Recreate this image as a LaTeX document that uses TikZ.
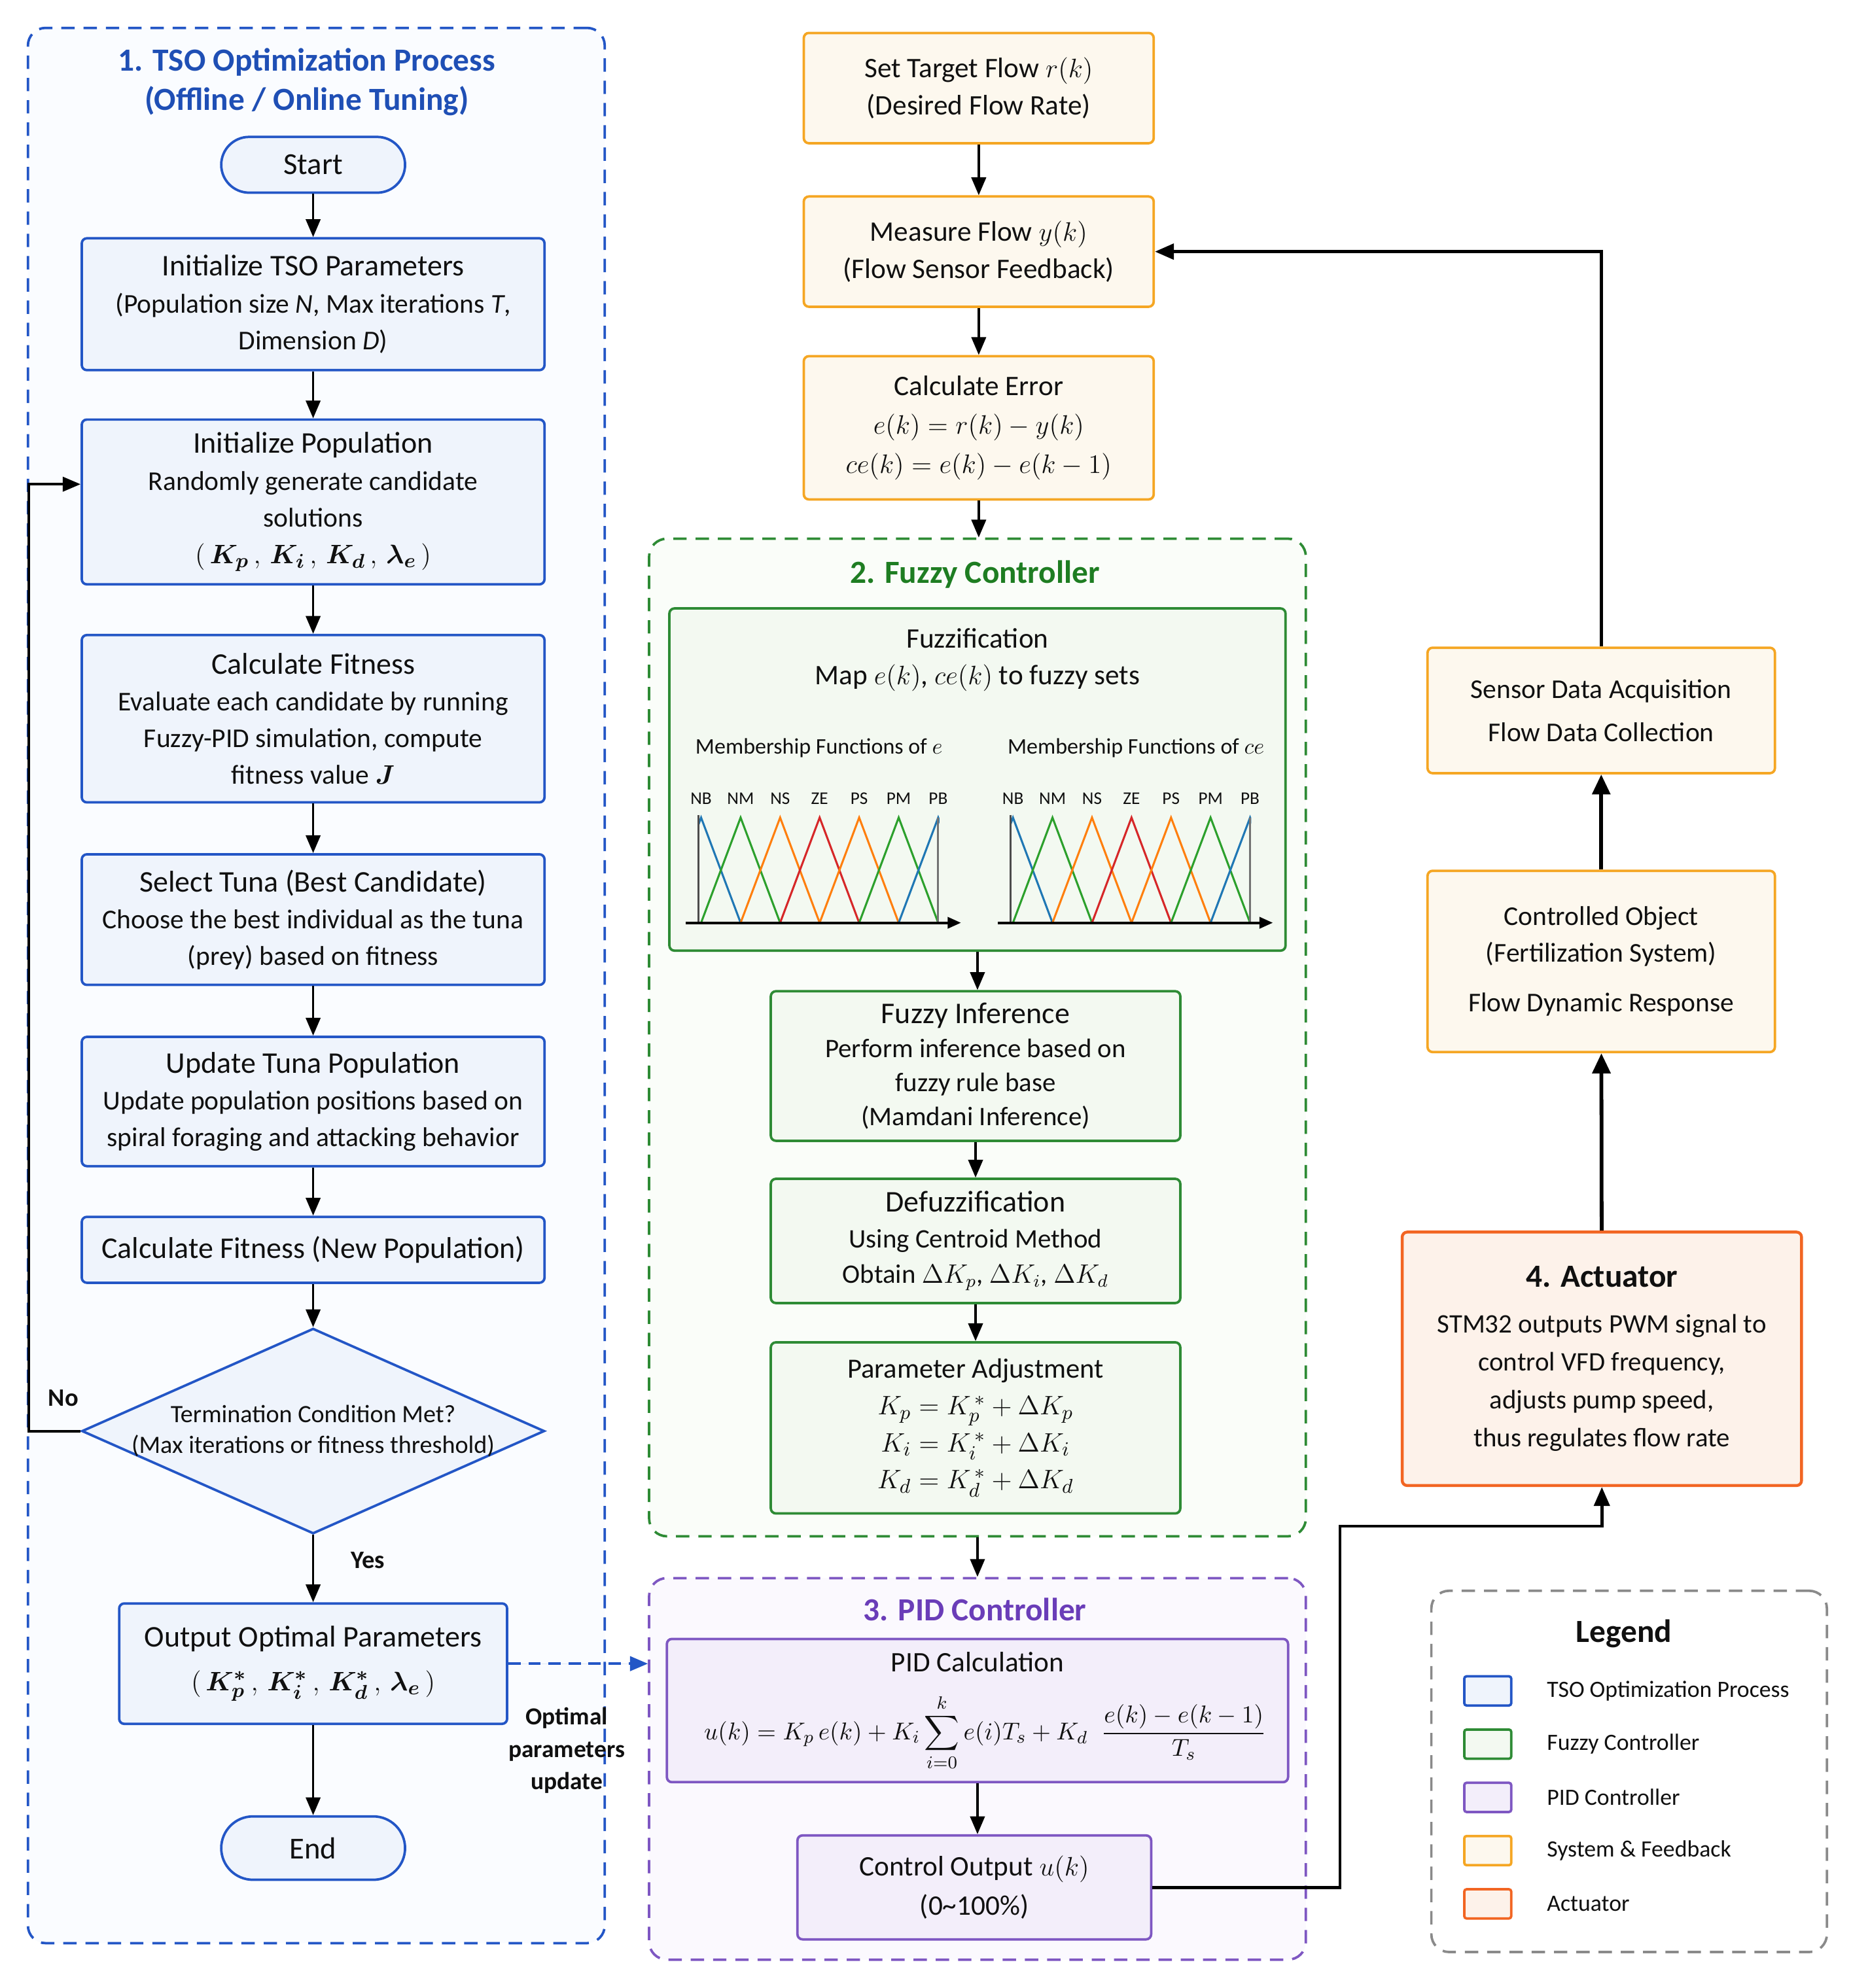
\documentclass[tikz,border=0pt]{standalone}
\usepackage{fontspec}
\usepackage{amsmath}
\usepackage{bm}
\setmainfont{Carlito}
\setsansfont{Carlito}
\usetikzlibrary{shapes.geometric,arrows.meta,calc}

\definecolor{tsob}{HTML}{2356C6}
\definecolor{tsot}{HTML}{1F4FB5}
\definecolor{tsof}{HTML}{EFF4FC}
\definecolor{tsocf}{HTML}{FAFCFF}
\definecolor{sysb}{HTML}{F5A623}
\definecolor{sysf}{HTML}{FDF8EE}
\definecolor{fzb}{HTML}{2E8B35}
\definecolor{fzt}{HTML}{1E7D22}
\definecolor{fzf}{HTML}{F3F9F1}
\definecolor{fzcf}{HTML}{FAFDF9}
\definecolor{pidb}{HTML}{7E57C2}
\definecolor{pidt}{HTML}{6A3DB8}
\definecolor{pidf}{HTML}{F3EEFA}
\definecolor{pidcf}{HTML}{FBF9FE}
\definecolor{actb}{HTML}{F26522}
\definecolor{actf}{HTML}{FDF2EA}
\definecolor{legb}{HTML}{8A8A8A}
\definecolor{mfblue}{HTML}{1F77B4}
\definecolor{mfgreen}{HTML}{2CA02C}
\definecolor{mforange}{HTML}{FF7F0E}
\definecolor{mfred}{HTML}{D62728}
\definecolor{txt}{HTML}{101010}

\newdimen\PX \PX=0.02cm
\newcommand\BxTitle{\fontsize{13.5}{16.5}\selectfont}
\newcommand\BxBody{\fontsize{12.2}{16.5}\selectfont}
\newcommand\FzBody{\fontsize{12}{15.2}\selectfont}
\newcommand\SysFont{\fontsize{12.7}{16.5}\selectfont}

\tikzset{
  base/.style={rectangle, rounded corners=4\PX, line width=1.1pt, align=center,
    inner sep=0pt, text=txt},
  tsobox/.style={base, draw=tsob, fill=tsof, font=\BxBody},
  sysbox/.style={base, draw=sysb, fill=sysf, font=\SysFont},
  fzbox/.style={base, draw=fzb, fill=fzf, font=\FzBody},
  pidbox/.style={base, draw=pidb, fill=pidf},
  actbox/.style={base, draw=actb, fill=actf, line width=1.3pt},
  term/.style={tsobox, font=\fontsize{13.7}{16}\selectfont},
  cont/.style={rectangle, rounded corners=14\PX, line width=1.1pt,
    dash pattern=on 6pt off 4pt, inner sep=0pt},
  ctitle/.style={font=\bfseries\fontsize{14.5}{17.6}\selectfont, align=center},
  lbl/.style={font=\bfseries\fontsize{11.3}{14.5}\selectfont, align=center, text=txt},
  arr/.style={line width=1.1pt, -{Triangle[length=8pt,width=6.5pt]}},
  arrT/.style={line width=1.7pt, -{Triangle[length=9pt,width=8pt]}},
  arrM/.style={line width=1.4pt, -{Triangle[length=8.5pt,width=7pt]}},
  legsq/.style={rectangle, rounded corners=1pt, line width=1.1pt,
    minimum width=37\PX, minimum height=23\PX, inner sep=0pt},
  legtx/.style={anchor=west, font=\fontsize{10.5}{12}\selectfont, text=txt},
  mflab/.style={font=\fontsize{8}{9}\selectfont, text=txt},
}

\begin{document}
\begin{tikzpicture}[x=0.02cm, y=-0.02cm]
\fill[white] (0,0) rectangle (1460,1568.4);
\useasboundingbox (0,0) rectangle (1460,1568.4);

% ---------------- containers ----------------
\node[cont, draw=tsob, fill=tsocf, minimum width=455\PX, minimum height=1511\PX] (tsoc) at (249.5,777.5) {};
\node[cont, draw=fzb, fill=fzcf, minimum width=518\PX, minimum height=787\PX] (fzc) at (771,818.5) {};
\node[cont, draw=pidb, fill=pidcf, minimum width=518\PX, minimum height=301\PX] (pidc) at (771,1395.5) {};
\node[cont, draw=legb, fill=white, minimum width=312\PX, minimum height=285\PX] (legend) at (1285,1397.5) {};

\node[ctitle, text=tsot] (tsotitle) at (242,64.5) {1. TSO Optimization Process\\(Offline / Online Tuning)};
\node[ctitle, text=fzt] (fztitle) at (769,453) {2. Fuzzy Controller};
\node[ctitle, text=pidt] (pidtitle) at (769,1270) {3. PID Controller};

% ---------------- left column ----------------
\node[term, minimum width=145\PX, minimum height=44\PX, rounded corners=22\PX] (start) at (247,130) {Start};
\node[tsobox, minimum width=365\PX, minimum height=104\PX] (initp) at (247,240)
  {\BxTitle Initialize TSO Parameters\\(Population size \textit{N}, Max iterations \textit{T},\\Dimension \textit{D})};
\node[tsobox, minimum width=365\PX, minimum height=130\PX] (initpop) at (247,396)
  {\BxTitle Initialize Population\\Randomly generate candidate\\solutions\\$(\,\bm{K_p}\,,\,\bm{K_i}\,,\,\bm{K_d}\,,\,\bm{\lambda_e}\,)$};
\node[tsobox, minimum width=365\PX, minimum height=132\PX] (calcfit) at (247,567)
  {\BxTitle Calculate Fitness\\Evaluate each candidate by running\\Fuzzy-PID simulation, compute\\fitness value $\bm{J}$};
\node[tsobox, minimum width=365\PX, minimum height=103\PX] (select) at (247,725.5)
  {\BxTitle Select Tuna (Best Candidate)\\Choose the best individual as the tuna\\(prey) based on fitness};
\node[tsobox, minimum width=365\PX, minimum height=102\PX] (update) at (247,869)
  {\BxTitle Update Tuna Population\\Update population positions based on\\spiral foraging and attacking behavior};
\node[tsobox, minimum width=365\PX, minimum height=52\PX, font=\BxTitle] (calcnew) at (247,986)
  {Calculate Fitness (New Population)};
\node[diamond, draw=tsob, fill=tsof, line width=1.1pt, minimum width=365\PX, minimum height=162\PX,
  inner sep=0pt, aspect=2.25] (dec) at (247,1129) {};
\node[align=center, font=\fontsize{11.2}{13.8}\selectfont, text=txt] (dectext) at (dec.center)
  {Termination Condition Met?\\(Max iterations or fitness threshold)};
\node[tsobox, minimum width=306\PX, minimum height=95\PX] (out) at (247,1312.5)
  {\BxTitle Output Optimal Parameters\\[3pt]$(\,\bm{K_p}^{\bm{*}}\,,\,\bm{K_i}^{\bm{*}}\,,\,\bm{K_d}^{\bm{*}}\,,\,\bm{\lambda_e}\,)$};
\node[term, minimum width=145\PX, minimum height=50\PX, rounded corners=25\PX] (endn) at (247,1458) {End};

\node[lbl] (nolbl) at (50,1103) {No};
\node[lbl] (yeslbl) at (290,1231) {Yes};
\node[lbl, font=\bfseries\fontsize{11}{14.6}\selectfont] (optlbl) at (447,1381) {Optimal\\parameters\\update};

\draw[arr] (start) -- (initp);
\draw[arr] (initp) -- (initpop);
\draw[arr] (initpop) -- (calcfit);
\draw[arr] (calcfit) -- (select);
\draw[arr] (select) -- (update);
\draw[arr] (update) -- (calcnew);
\draw[arr] (calcnew) -- (dec);
\draw[arr] (dec) -- (out);
\draw[arr] (out) -- (endn);
\draw[arr] (dec.west) -- ++(-41,0) |- ($(initpop.west)+(0,-14)$);
\draw[arr, draw=tsob, fill=tsob, dash pattern=on 5.5pt off 3.5pt] (out.east) -- (out.east -| pidc.west);

% ---------------- middle column ----------------
\node[sysbox, minimum width=276\PX, minimum height=87\PX] (target) at (772,69.5)
  {Set Target Flow $r(k)$\\(Desired Flow Rate)};
\node[sysbox, minimum width=276\PX, minimum height=87\PX] (measure) at (772,198.5)
  {Measure Flow $y(k)$\\(Flow Sensor Feedback)};
\node[sysbox, minimum width=276\PX, minimum height=113\PX] (calcerr) at (772,337.5)
  {Calculate Error\\[1pt]$e(k) = r(k) - y(k)$\\[1pt]$ce(k) = e(k) - e(k-1)$};

\node[fzbox, minimum width=486\PX, minimum height=270\PX] (fuzzif) at (771,615) {};
\node[align=center, font=\SysFont, text=txt] (fuzziftext) at (771,520.5)
  {Fuzzification\\Map $e(k)$, $ce(k)$ to fuzzy sets};
\node[font=\fontsize{10}{12}\selectfont, text=txt] (mfe) at (646,590) {Membership Functions of $e$};
\node[font=\fontsize{10}{12}\selectfont, text=txt] (mfce) at (896,590) {Membership Functions of $ce$};

\foreach \xo in {551,797}{
  \begin{scope}
    \clip (\xo,600) rectangle (\xo+190,729);
    \foreach \i/\c in {0/mfblue,1/mfgreen,2/mforange,3/mfred,4/mforange,5/mfgreen,6/mfblue}{
      \pgfmathsetmacro\pk{\xo+2+31.17*\i}
      \draw[\c, line width=0.9pt] (\pk-31.17,728) -- (\pk,645) -- (\pk+31.17,728);
    }
  \end{scope}
  \foreach \i/\lab in {0/NB,1/NM,2/NS,3/ZE,4/PS,5/PM,6/PB}{
    \pgfmathsetmacro\pk{\xo+2+31.17*\i}
    \node[mflab] at (\pk,630) {\lab};
  }
  \draw[line width=0.9pt, draw=black!70] (\xo,643) -- (\xo,728);
  \draw[line width=0.9pt, draw=black!55] (\xo+189,645) -- (\xo+189,728);
  \draw[line width=1.2pt, -{Triangle[length=6pt,width=5pt]}] (\xo-10,728) -- (\xo+207,728);
}

\node[fzbox, minimum width=323\PX, minimum height=118\PX] (infer) at (769.5,841)
  {\BxTitle Fuzzy Inference\\Perform inference based on\\fuzzy rule base\\(Mamdani Inference)};
\node[fzbox, minimum width=323\PX, minimum height=98\PX, font=\fontsize{12}{16}\selectfont] (defuzz) at (769.5,979)
  {\BxTitle Defuzzification\\Using Centroid Method\\Obtain $\Delta K_p$, $\Delta K_i$, $\Delta K_d$};
\node[fzbox, minimum width=323\PX, minimum height=135\PX, font=\fontsize{12.5}{16.5}\selectfont] (padj) at (769.5,1126.5)
  {Parameter Adjustment\\$K_p = K_p^{\,*} + \Delta K_p$\\$K_i = K_i^{\,*} + \Delta K_i$\\$K_d = K_d^{\,*} + \Delta K_d$};

\node[pidbox, minimum width=490\PX, minimum height=113\PX] (pidcalc) at (771,1349.5) {};
\node[font=\SysFont, text=txt, inner sep=0pt] (pidcalctitle) at (771,1311) {PID Calculation};
\node[font=\fontsize{11.4}{14}\selectfont, text=txt, inner sep=0pt] (pidformula) at (777,1367)
  {$\displaystyle u(k) = K_p\, e(k) + K_i \sum_{i=0}^{k} e(i)T_s + K_d\;\; \frac{e(k)-e(k-1)}{T_s}$};
\node[pidbox, minimum width=279\PX, minimum height=82\PX, font=\SysFont] (ctrlout) at (768.5,1489)
  {Control Output $u(k)$\\[1pt](0\textasciitilde 100\%)};

\draw[arr] (target) -- (measure);
\draw[arr] (measure) -- (calcerr);
\draw[arr] (calcerr.south) -- (calcerr.south |- fzc.north);
\draw[arr] (fuzzif.south) -- (fuzzif.south |- infer.north);
\draw[arr] (infer) -- (defuzz);
\draw[arr] (defuzz) -- (padj);
\draw[arr] (fzc.south) -- (pidc.north);
\draw[arr] (pidcalc.south) -- (pidcalc.south |- ctrlout.north);

% ---------------- right column ----------------
\node[sysbox, minimum width=274\PX, minimum height=99\PX, font=\fontsize{12.2}{16.4}\selectfont] (sensor) at (1263,560.5)
  {Sensor Data Acquisition\\[3pt]Flow Data Collection};
\node[sysbox, minimum width=274\PX, minimum height=143\PX, font=\fontsize{12.2}{16.4}\selectfont] (ctrlobj) at (1263,758.5)
  {Controlled Object\\(Fertilization System)\\[6pt]Flow Dynamic Response};
\node[actbox, minimum width=315\PX, minimum height=200\PX] (actuator) at (1263.5,1072) {};
\node[font=\bfseries\fontsize{14.5}{17}\selectfont, text=txt] (acttitle) at (1263.5,1007) {4. Actuator};
\node[align=center, font=\fontsize{12}{17}\selectfont, text=txt] (actbody) at (1263.5,1091)
  {STM32 outputs PWM signal to\\control VFD frequency,\\adjusts pump speed,\\thus regulates flow rate};

\draw[arrT] (actuator) -- (ctrlobj);
\draw[arrT] (ctrlobj) -- (sensor);
\draw[arrM] (sensor.north) |- (measure.east);
\draw[arrM] (ctrlout.east) -| (1057,1204) -| (actuator.south);

% ---------------- legend ----------------
\node[font=\bfseries\fontsize{14.5}{17}\selectfont, text=txt] (legtitle) at (1281,1289) {Legend};
\node[legsq, draw=tsob, fill=tsof] (lg1) at (1173.5,1334) {};
\node[legsq, draw=fzb, fill=fzf] (lg2) at (1173.5,1376) {};
\node[legsq, draw=pidb, fill=pidf] (lg3) at (1173.5,1418) {};
\node[legsq, draw=sysb, fill=sysf] (lg4) at (1173.5,1460) {};
\node[legsq, draw=actb, fill=actf] (lg5) at (1173.5,1502) {};
\node[legtx] (lt1) at (1214,1334) {TSO Optimization Process};
\node[legtx] (lt2) at (1214,1376) {Fuzzy Controller};
\node[legtx] (lt3) at (1214,1418) {PID Controller};
\node[legtx] (lt4) at (1214,1460) {System \& Feedback};
\node[legtx] (lt5) at (1214,1502) {Actuator};
\end{tikzpicture}
\end{document}
